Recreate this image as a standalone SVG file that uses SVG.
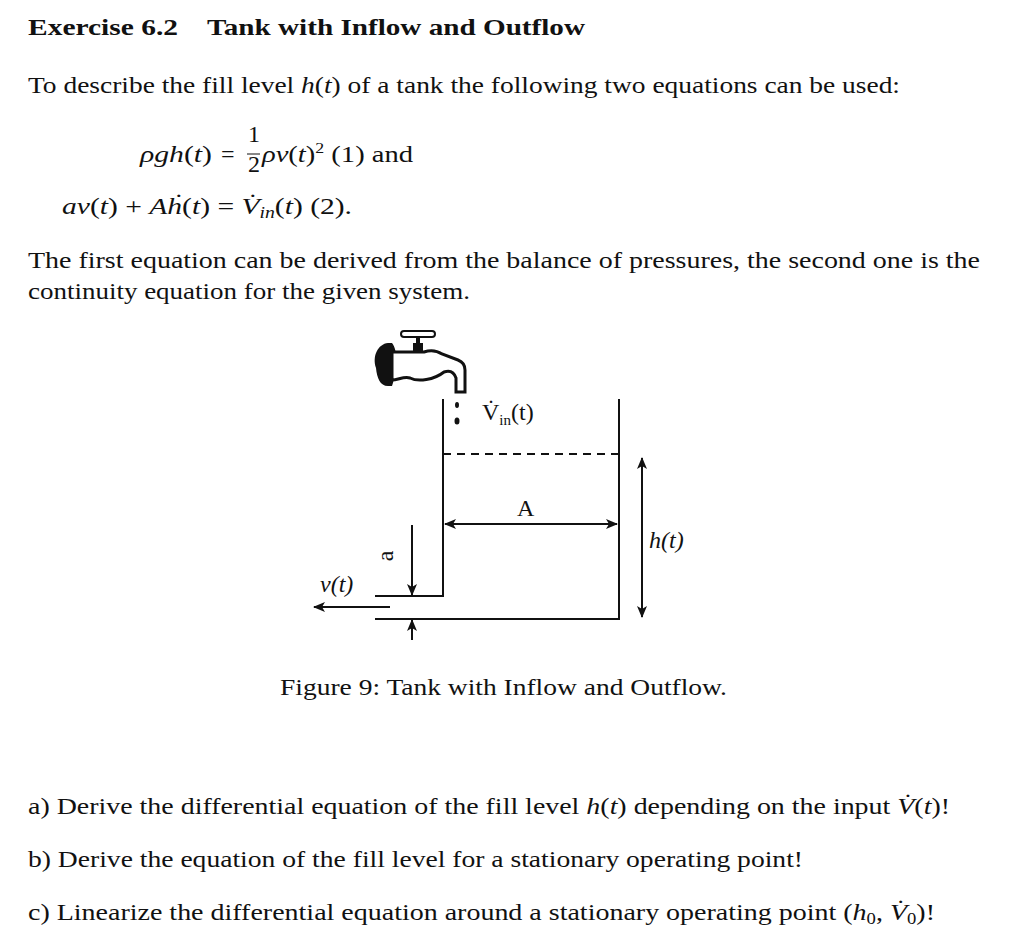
<svg xmlns="http://www.w3.org/2000/svg" width="1024" height="938" viewBox="0 0 1024 938">
<style>
text{font-family:"Liberation Serif","DejaVu Serif",serif;font-size:24px;fill:#111}
.i{font-style:italic}
.ln{stroke:#111;stroke-width:2;fill:none}
</style>
<defs><marker id="ar" markerWidth="12" markerHeight="10" refX="11" refY="5" orient="auto" markerUnits="userSpaceOnUse"><path d="M0,0 L12,5 L0,10 L3,5 Z" fill="#111"/></marker></defs>
<rect width="1024" height="938" fill="#fff"/>
<text x="28" y="35" font-weight="bold" textLength="150" lengthAdjust="spacingAndGlyphs">Exercise 6.2</text>
<text x="207" y="35" font-weight="bold" textLength="378" lengthAdjust="spacingAndGlyphs">Tank with Inflow and Outflow</text>
<text x="28" y="93" textLength="872" lengthAdjust="spacingAndGlyphs">To describe the fill level <tspan class="i">h</tspan>(<tspan class="i">t</tspan>) of a tank the following two equations can be used:</text>
<text x="140" y="162" textLength="72" lengthAdjust="spacingAndGlyphs"><tspan class="i">ρgh</tspan>(<tspan class="i">t</tspan>)</text>
<text x="221" y="162">=</text>
<text x="248" y="142" font-size="19">1</text>
<line x1="247" y1="154" x2="260" y2="154" stroke="#111" stroke-width="1"/>
<text x="248" y="172" font-size="19">2</text>
<text x="262" y="162" textLength="151" lengthAdjust="spacingAndGlyphs"><tspan class="i">ρv</tspan>(<tspan class="i">t</tspan>)<tspan font-size="15" dy="-9">2</tspan><tspan dy="9"> (1) and</tspan></text>
<text x="62" y="214" textLength="290" lengthAdjust="spacingAndGlyphs"><tspan class="i">av</tspan>(<tspan class="i">t</tspan>) + <tspan class="i">Aḣ</tspan>(<tspan class="i">t</tspan>) = <tspan class="i">V̇</tspan><tspan class="i" font-size="16" dy="4">in</tspan><tspan dy="-4">(</tspan><tspan class="i">t</tspan>) (2).</text>
<text x="28" y="268" textLength="952" lengthAdjust="spacingAndGlyphs">The first equation can be derived from the balance of pressures, the second one is the</text>
<text x="28" y="299" textLength="442" lengthAdjust="spacingAndGlyphs">continuity equation for the given system.</text>
<g id="faucet">
<path d="M376,368 C372,356 378,344 388,343 L392,343 C398,350 398,370 392,386 L388,386 C380,386 377,378 376,368 Z" fill="#111"/>
<path d="M392,352 L424,352 C430,350 436,350 442,354 L458,360 C463,362 465,366 465,370 L465,392 L456,392 L456,378 C454,372 450,370 444,372 C434,380 418,382 410,378 C404,376 398,380 392,380 Z" fill="#fff" stroke="#111" stroke-width="3"/>
<rect x="413" y="343" width="10" height="9" fill="#111"/>
<rect x="416" y="335" width="4" height="8" fill="#111"/>
<rect x="401" y="331" width="34" height="6" rx="3" fill="#fff" stroke="#111" stroke-width="2"/>
</g>
<g id="drops" fill="#111">
<ellipse cx="457" cy="405" rx="2" ry="3"/>
<ellipse cx="457" cy="421" rx="2.5" ry="3.5"/>
</g>
<text x="482" y="420" font-size="24">V̇<tspan font-size="15" dy="5">in</tspan><tspan dy="-5">(t)</tspan></text>
<g id="tank">
<path class="ln" d="M443,399 L443,596 L375,596"/>
<path class="ln" d="M619,399 L619,619 L375,619"/>
<line x1="443" y1="454" x2="619" y2="454" stroke="#111" stroke-width="2" stroke-dasharray="8,6"/>
</g>
<g id="connectors">
<line class="ln" x1="530" y1="524" x2="617" y2="524" marker-end="url(#ar)"/>
<line class="ln" x1="530" y1="524" x2="445" y2="524" marker-end="url(#ar)"/>
<line class="ln" x1="642" y1="540" x2="642" y2="458" marker-end="url(#ar)"/>
<line class="ln" x1="642" y1="540" x2="642" y2="617" marker-end="url(#ar)"/>
<line class="ln" x1="412" y1="525" x2="412" y2="595" marker-end="url(#ar)"/>
<line class="ln" x1="412" y1="640" x2="412" y2="620" marker-end="url(#ar)"/>
<line class="ln" x1="390" y1="607" x2="314" y2="607" marker-end="url(#ar)"/>
</g>
<text x="517" y="516" font-size="24">A</text>
<text x="649" y="548" class="i" font-size="26">h(t)</text>
<text x="320" y="592" class="i" font-size="25">v(t)</text>
<text x="0" y="0" font-size="24" transform="translate(393,556) rotate(-90)" text-anchor="middle">a</text>
<text x="280" y="695" textLength="447" lengthAdjust="spacingAndGlyphs">Figure 9: Tank with Inflow and Outflow.</text>
<text x="28" y="814" textLength="922" lengthAdjust="spacingAndGlyphs">a)  Derive the differential equation of the fill level <tspan class="i">h</tspan>(<tspan class="i">t</tspan>) depending on the input <tspan class="i">V̇</tspan>(<tspan class="i">t</tspan>)!</text>
<text x="28" y="867" textLength="775" lengthAdjust="spacingAndGlyphs">b)  Derive the equation of the fill level for a stationary operating point!</text>
<text x="28" y="920" textLength="907" lengthAdjust="spacingAndGlyphs">c)  Linearize the differential equation around a stationary operating point (<tspan class="i">h</tspan><tspan font-size="16" dy="4">0</tspan><tspan dy="-4">, </tspan><tspan class="i">V̇</tspan><tspan font-size="16" dy="4">0</tspan><tspan dy="-4">)!</tspan></text>
</svg>
